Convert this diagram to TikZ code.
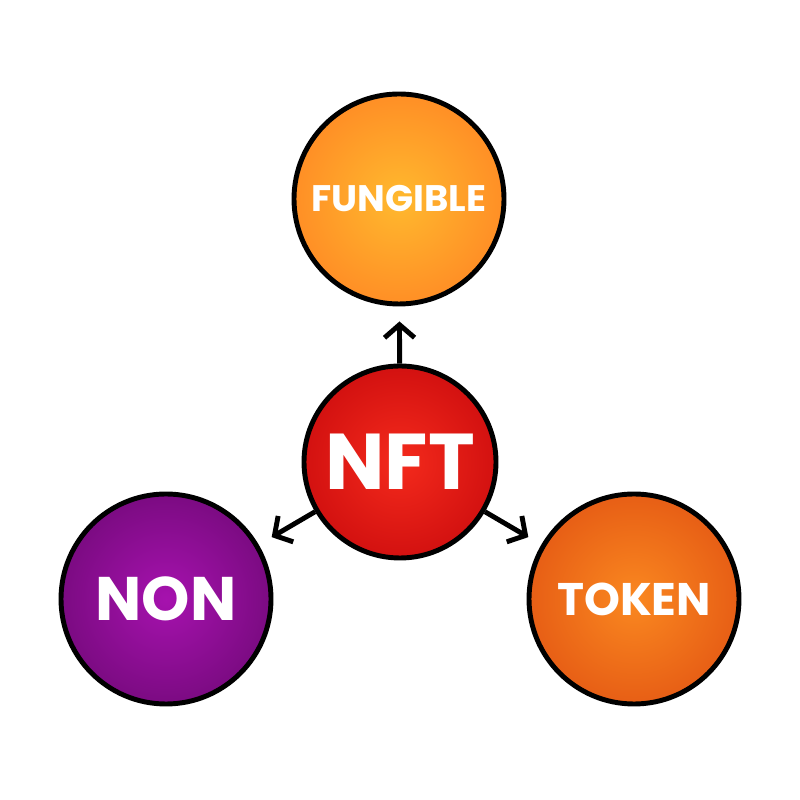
\documentclass[tikz,border=0pt]{standalone}
\usepackage{fontspec}
\newfontfamily\mapfont{Poppins}
\usetikzlibrary{arrows.meta}

\definecolor{fungin}{HTML}{FFB92E}
\definecolor{fungout}{HTML}{FF7220}
\definecolor{nftin}{HTML}{F42A1C}
\definecolor{nftout}{HTML}{BC0008}
\definecolor{nonin}{HTML}{A612AE}
\definecolor{nonout}{HTML}{5E0664}
\definecolor{tokin}{HTML}{FA8820}
\definecolor{tokout}{HTML}{DA420E}
\pgfdeclareradialshading{fungshade}{\pgfpoint{0bp}{0bp}}{color(0bp)=(fungin); color(42bp)=(fungout); color(50bp)=(fungout)}
\pgfdeclareradialshading{nftshade}{\pgfpoint{0bp}{0bp}}{color(0bp)=(nftin); color(42bp)=(nftout); color(50bp)=(nftout)}
\pgfdeclareradialshading{nonshade}{\pgfpoint{0bp}{0bp}}{color(0bp)=(nonin); color(42bp)=(nonout); color(50bp)=(nonout)}
\pgfdeclareradialshading{tokshade}{\pgfpoint{0bp}{0bp}}{color(0bp)=(tokin); color(42bp)=(tokout); color(50bp)=(tokout)}

\begin{document}
\begin{tikzpicture}[
    bubble/.style={circle, draw=black, line width=1.4pt, inner sep=0pt,
      minimum size=2.1cm, text=white, shade},
    link/.style={line width=1.4pt, -{Straight Barb[length=1.3mm,width=3mm]},
      shorten >=0.15cm}]
  \useasboundingbox (0,0) rectangle (8,8);
  \node[bubble, shading=fungshade,
    font=\mapfont\bfseries\fontsize{10.5}{12}\selectfont] (fung) at (3.99,6.01) {FUNGIBLE};
  \node[bubble, shading=nftshade, minimum size=1.92cm,
    font=\mapfont\bfseries\fontsize{22.5}{26}\selectfont] (nft) at (4.00,3.38) {NFT};
  \node[bubble, shading=nonshade,
    font=\mapfont\bfseries\fontsize{17.5}{20}\selectfont] (non) at (1.66,2.01) {NON};
  \node[bubble, shading=tokshade,
    font=\mapfont\bfseries\fontsize{13}{15}\selectfont] (tok) at (6.34,2.01) {TOKEN};
  \draw[link] (nft) -- (fung);
  \draw[link] (nft) -- (non);
  \draw[link] (nft) -- (tok);
\end{tikzpicture}
\end{document}
